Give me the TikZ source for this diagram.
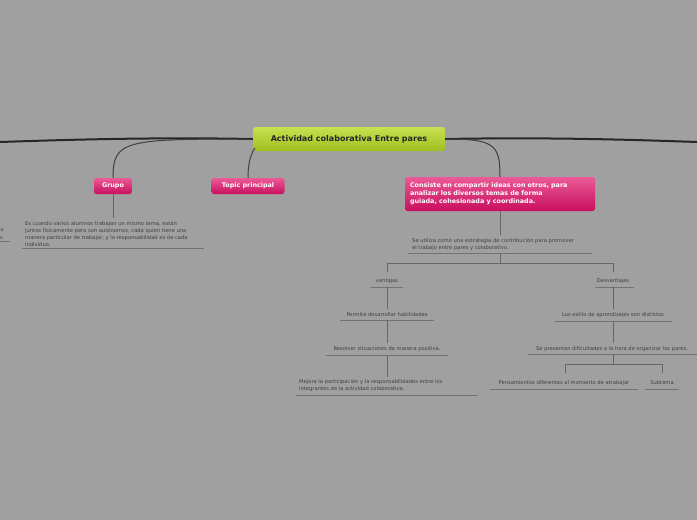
\documentclass[tikz,border=0pt]{standalone}
\usepackage{fontspec}
\setmainfont{DejaVu Sans}
\begin{document}
\begin{tikzpicture}[x=1pt,y=-1pt,
  thick line/.style={line width=2pt,draw=black!85},
  br/.style={line width=1pt,draw=black!75},
  thin/.style={line width=0.8pt,draw=black!60},
  ul/.style={line width=0.8pt,draw=black!55},
  pink/.style={rounded corners=2.5pt,top color={rgb,255:red,235;green,90;blue,150},bottom color={rgb,255:red,200;green,15;blue,95},draw=none,text=white,font=\bfseries\fontsize{6.4}{7.8}\selectfont,inner sep=3pt},
  lbl/.style={font=\fontsize{5.2}{7.2}\selectfont,text=black!75,inner sep=1pt}]
\useasboundingbox[fill={rgb,255:red,160;green,160;blue,160}] (0,0) rectangle (697,520);
% central
\node[rounded corners=3pt,top color={rgb,255:red,200;green,225;blue,80},bottom color={rgb,255:red,160;green,190;blue,30},font=\bfseries\fontsize{8}{9.5}\selectfont,text=black!85,minimum width=192pt,minimum height=24pt] (c) at (349,139) {Actividad colaborativa Entre pares};
\coordinate (L) at (0,142);
\coordinate (R) at (697,142);
\draw[thick line] (c.west) .. controls (150,137) and (60,140) .. (L);
\draw[thick line] (c.east) .. controls (550,137) and (640,140) .. (R);
% nodes
\node[pink,minimum width=38pt,minimum height=16pt] (g) at (113,186) {Grupo};
\node[pink,minimum width=73pt,minimum height=16pt] (t) at (248,186) {Topic principal};
\node[pink,minimum width=190pt,minimum height=34pt,align=left,text width=180pt] (k) at (500,194) {Consiste en compartir ideas con otros, para\\analizar los diversos temas de forma\\guiada, cohesionada y coordinada.};
\draw[br] (252,139) .. controls (125,139) and (113,140) .. (g.north);
\draw[br] (255,148) .. controls (250,155) and (248,165) .. (t.north);
\draw[br] (446,139) .. controls (495,139) and (500,145) .. (k.north);
% grupo text
\node[lbl,anchor=north west,align=left] (gt) at (24,220) {Es cuando varios alumnos trabajan un mismo tema, están\\juntos físicamente pero son autónomos, cada quien tiene una\\manera particular de trabajar, y la responsabilidad es de cada\\individuo.};
\draw[thin] (g.south) -- (113,218);
\draw[ul] (22,248) -- (204,248);
% left cut
\node[lbl,anchor=east,align=right] (lc) at (5,234) {o\\o.};
\draw[ul] (0,241) -- (10,241);
% consiste children
\node[lbl,anchor=north west,align=left] (s) at (411,237) {Se utiliza como una estrategia de contribución  para promover\\el trabajo entre pares y colaborativo.};
\draw[thin] (k.south) -- (500,235);
\draw[ul] (408,253) -- (592,253);
\coordinate (s1) at (500,253);
\draw[thin] (s1) -- (500,263) -- (387,263) -- (387,272);
\draw[thin] (500,263) -- (613,263) -- (613,272);
\node[lbl] (v) at (387,281) {ventajas};
\draw[ul] (371,287) -- (403,287);
\node[lbl] (d) at (613,281) {Desventajas};
\draw[ul] (595,287) -- (634,287);
\draw[thin] (387,287) -- (387,309);
\node[lbl] (p) at (387,315) {Permite desarrollar habilidades};
\draw[ul] (340,320) -- (434,320);
\draw[thin] (387,320) -- (387,343);
\node[lbl] (r) at (387,349) {Resolver situaciones de manera positiva.};
\draw[ul] (326,355) -- (448,355);
\draw[thin] (387,355) -- (387,377);
\node[lbl,anchor=north west,align=left] (m) at (298,378) {Mejora la participación y la responsabilidades entre los\\integrantes de la actividad colaborativa.};
\draw[ul] (296,395) -- (478,395);
\draw[thin] (613,287) -- (613,309);
\node[lbl] (e) at (613,315) {Los estilo de aprendizajes son distintos};
\draw[ul] (555,321) -- (672,321);
\draw[thin] (613,321) -- (613,343);
\node[lbl] (f) at (612,349) {Se presentan dificultades a la hora de organizar los pares.};
\draw[ul] (528,354) -- (697,354);
\draw[thin] (613,354) -- (613,364) -- (565,364) -- (565,373);
\draw[thin] (613,364) -- (662,364) -- (662,373);
\node[lbl] (pe) at (564,383) {Pensamientos diferentes al momento de  atrabajar};
\draw[ul] (490,389) -- (638,389);
\node[lbl] (sb) at (662,383) {Subtema};
\draw[ul] (645,389) -- (679,389);
\end{tikzpicture}
\end{document}
